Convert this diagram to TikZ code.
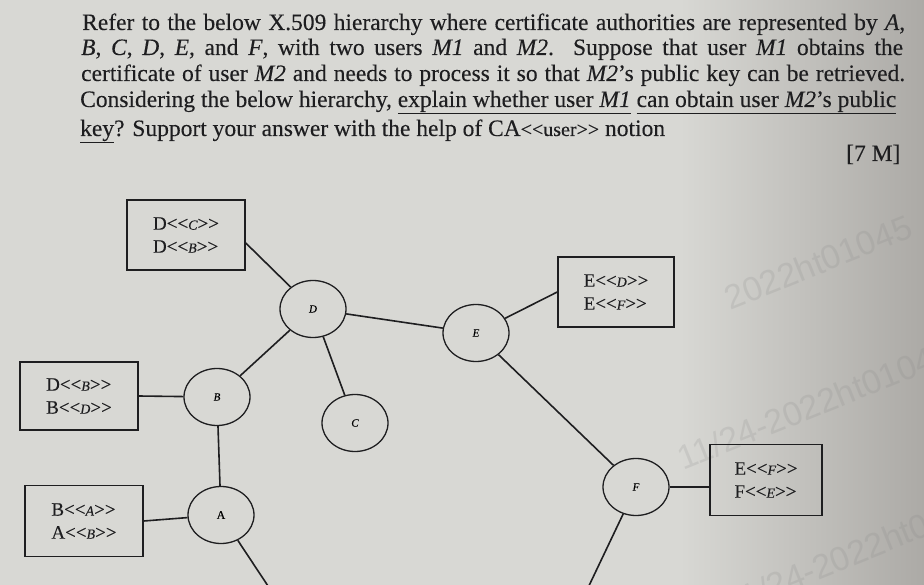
\documentclass[tikz,border=0pt]{standalone}
\usepackage{fontspec}
\setmainfont{Liberation Serif}[FakeBold=0.2]
\setsansfont{Liberation Sans}
\usetikzlibrary{shapes.geometric}
\definecolor{paper}{RGB}{216,216,212}
\definecolor{paperdark}{RGB}{172,170,166}
\definecolor{ink}{RGB}{30,30,32}
\tikzset{
    ca/.style={draw=ink,line width=1.3pt,ellipse,minimum width=66pt,minimum height=57pt,
        inner sep=0pt,font=\fontsize{11}{11}\selectfont\itshape},
    certbox/.style={draw=ink,line width=1.5pt,inner sep=0pt,align=left,text=ink,
        font=\fontsize{19}{23}\selectfont},
    link/.style={draw=ink,line width=1.6pt},
    qline/.style={anchor=base west,inner sep=0pt,text=ink,font=\fontsize{23.5}{23.5}\selectfont},
    wmtext/.style={text=gray,opacity=0.17,font=\sffamily\fontsize{34}{34}\selectfont,rotate=22}
}
\newcommand\LL{<{}<}
\newcommand\GG{>{}>}
\newcommand\Inr[1]{{\fontsize{14}{14}\selectfont\itshape #1}}
\newcommand\CertBox[6]{% name, centre, width, height, line 1, line 2
    \node[certbox,minimum width=#3,minimum height=#4] (#1) at #2 {#5\\#6};
}

\begin{document}
\begin{tikzpicture}[x=1pt,y=-1pt]
    \fill[paper] (0,0) rectangle (924,585);
    \shade[left color=paper,right color=paperdark] (680,0) rectangle (924,585);
    \useasboundingbox (0,0) rectangle (924,585);
    \clip (0,0) rectangle (924,585);
    % watermark
    \node[wmtext] (wm1) at (818,262) {2022ht01045};
    \node[wmtext] (wm2) at (806,408) {11/24-2022ht0104};
    \node[wmtext] (wm3) at (836,560) {11/24-2022ht01};
    % question
    \node[qline] (q1) at (82,30) {\makebox[823pt][s]{Refer to the below X.509 hierarchy where certificate authorities are represented by \textit{A},}};
    \node[qline] (q2) at (81,55) {\makebox[822pt][s]{\textit{B}, \textit{C}, \textit{D}, \textit{E}, and \textit{F}, with two users \textit{M1} and \textit{M2}. Suppose that user \textit{M1} obtains the}};
    \node[qline] (q3) at (81,81) {\makebox[824pt][s]{certificate of user \textit{M2} and needs to process it so that \textit{M2}'s public key can be retrieved.}};
    \node[qline] (q4) at (80,107) {Considering the below hierarchy, \underline{explain whether user \textit{M1}} \underline{can obtain user \textit{M2}'s public}};
    \node[qline] (q5) at (80,136) {\underline{key}? Support your answer with the help of CA{\fontsize{20}{20}\selectfont\LL user\GG} notion};
    \node[qline] (marks) at (846,161) {[7 M]};
    % authorities
    \node[ca] (D) at (313,309) {D};
    \node[ca] (E) at (476,333) {E};
    \node[ca] (C) at (355,423) {C};
    \node[ca] (B) at (217,397) {B};
    \node[ca,font=\fontsize{12}{12}\selectfont] (A) at (221,515) {A};
    \node[ca] (F) at (636,487) {F};
    % certificates
    \CertBox{boxD}{(186,235)}{118pt}{70pt}{D\LL\Inr{C}\GG}{D\LL\Inr{B}\GG}
    \CertBox{boxE}{(616,292)}{116pt}{70pt}{E\LL\Inr{D}\GG}{E\LL\Inr{F}\GG}
    \CertBox{boxB}{(79,396)}{118pt}{68pt}{D\LL\Inr{B}\GG}{B\LL\Inr{D}\GG}
    \CertBox{boxA}{(84,521)}{118pt}{71pt}{B\LL\Inr{A}\GG}{A\LL\Inr{B}\GG}
    \CertBox{boxF}{(766,480)}{112pt}{71pt}{E\LL\Inr{F}\GG}{F\LL\Inr{E}\GG}
    \coordinate (Fout) at (586,592);
    \coordinate (Aout) at (272,592);
    % connectors
    \draw[link] ([yshift=-8pt]boxD.east) -- (D);
    \draw[link] (D) -- (B);
    \draw[link] (D) -- (C);
    \draw[link] (D) -- (E);
    \draw[link] (E) -- (boxE.west);
    \draw[link] (E) -- (F);
    \draw[link] (F) -- (Fout);
    \draw[link] (B) -- (A);
    \draw[link] (A) -- (Aout);
    \draw[link] (boxB.east) -- (B);
    \draw[link] (boxA.east) -- (A);
    \draw[link] (F.east) -- (F.east -| boxF.west);
\end{tikzpicture}
\end{document}
